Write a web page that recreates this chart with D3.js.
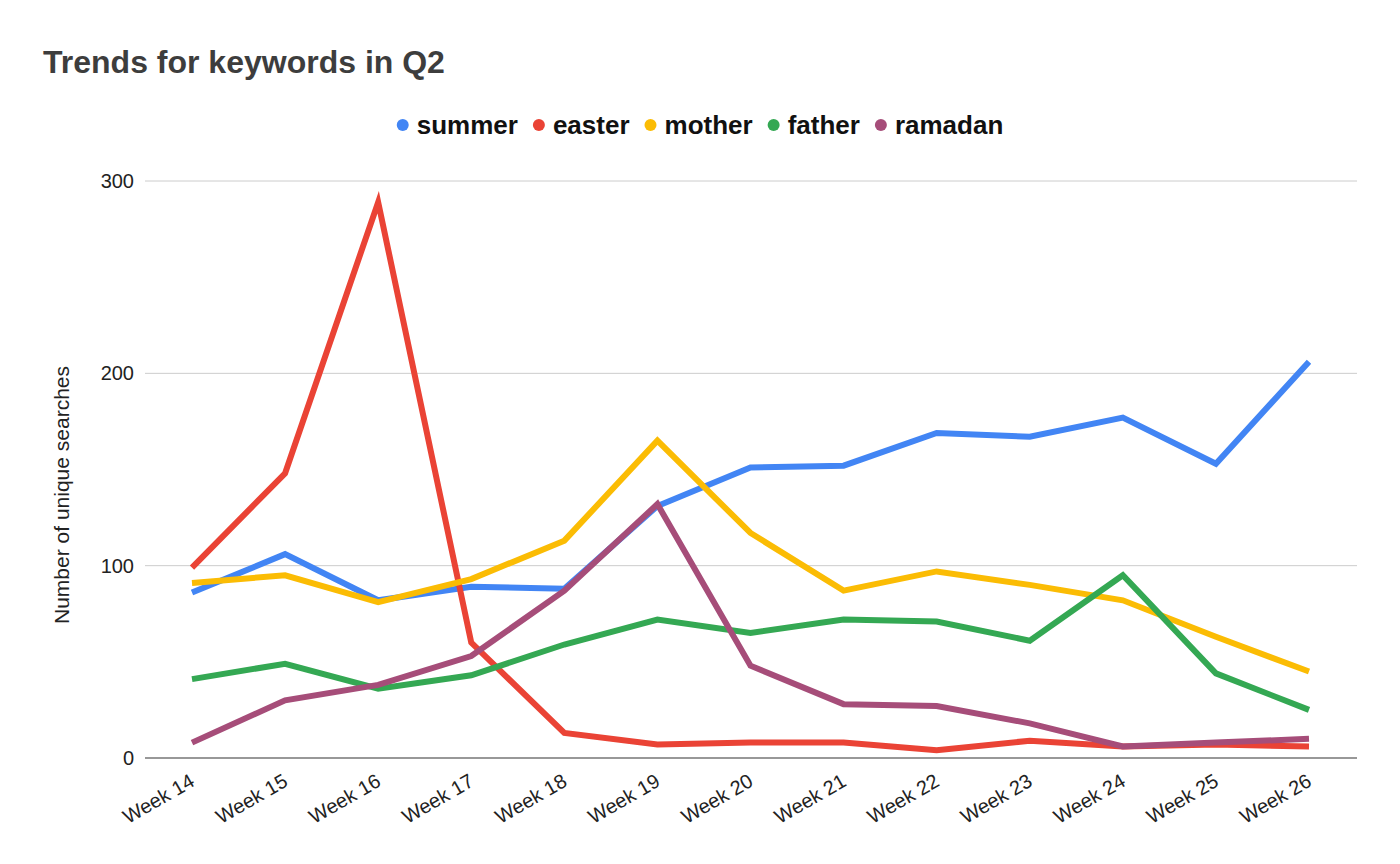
<!DOCTYPE html>
<html>
<head>
<meta charset="utf-8">
<script src="https://cdn.jsdelivr.net/npm/d3@7"></script>
<style>
  body { margin: 0; background: #fff; }
  text { font-family: Arial, "Liberation Sans", sans-serif; }
</style>
</head>
<body>
<div id="chart-area"></div>
<script>
// Data
const weeks = ["Week 14","Week 15","Week 16","Week 17","Week 18","Week 19","Week 20","Week 21","Week 22","Week 23","Week 24","Week 25","Week 26"]
const keywords = ["summer","easter","mother","father","ramadan"]
const summer  = [86, 106, 82, 89, 88, 131, 151, 152, 169, 167, 177, 153, 206]
const easter  = [99, 148, 289, 60, 13, 7, 8, 8, 4, 9, 6, 7, 6]
const mother  = [91, 95, 81, 93, 113, 165, 117, 87, 97, 90, 82, 63, 45]
const father  = [41, 49, 36, 43, 59, 72, 65, 72, 71, 61, 95, 44, 25]
const ramadan = [8, 30, 38, 53, 87, 132, 48, 28, 27, 18, 6, 8, 10]
const yTicks = [0, 100, 200, 300]
const colors = ["#4285f4", "#ea4335", "#fbbc04", "#34a853", "#a64d79"]

const series = [summer, easter, mother, father, ramadan]

const W = 1400, H = 864
const svg = d3.select("#chart-area").append("svg")
  .attr("width", W)
  .attr("height", H)

const x = d3.scalePoint().domain(weeks).range([192, 1309])
const y = d3.scaleLinear().domain([0, 300]).range([758, 181])
const cScale = d3.scaleOrdinal().domain(keywords).range(colors)

// Title
svg.append("text")
  .attr("x", 43).attr("y", 73)
  .style("font-size", "32px").style("font-weight", "bold")
  .attr("fill", "#3d3d3d")
  .text("Trends for keywords in Q2")

// gridlines
svg.append("g")
  .selectAll("line")
  .data(yTicks.filter(d => d > 0))
  .join("line")
    .attr("x1", 145).attr("x2", 1357)
    .attr("y1", d => y(d)).attr("y2", d => y(d))
    .attr("stroke", "#cccccc").attr("stroke-width", 1)

// y tick labels
svg.append("g")
  .selectAll("text")
  .data(yTicks)
  .join("text")
    .attr("x", 134).attr("y", d => y(d))
    .attr("dy", "0.35em")
    .attr("text-anchor", "end")
    .style("font-size", "20px")
    .attr("fill", "#222")
    .text(d => d)

// y axis title
svg.append("text")
  .attr("transform", "translate(69,495) rotate(-90)")
  .attr("text-anchor", "middle")
  .style("font-size", "21px")
  .attr("fill", "#222")
  .text("Number of unique searches")

// x labels
svg.append("g")
  .selectAll("text")
  .data(weeks)
  .join("text")
    .attr("transform", d => `translate(${x(d) + 4},${785}) rotate(-30)`)
    .attr("text-anchor", "end")
    .style("font-size", "20px")
    .attr("fill", "#222")
    .text(d => d)

// lines
const line = d3.line()
  .x((d, i) => x(weeks[i]))
  .y(d => y(d))

svg.append("g")
  .selectAll("path")
  .data(series)
  .join("path")
    .attr("d", d => line(d))
    .attr("fill", "none")
    .attr("stroke", (d, i) => cScale(keywords[i]))
    .attr("stroke-width", 6)
    .attr("stroke-linejoin", "miter")

// baseline
svg.append("line")
  .attr("x1", 145).attr("x2", 1357)
  .attr("y1", y(0)).attr("y2", y(0))
  .attr("stroke", "#333").attr("stroke-width", 1.2)

// Legend
const legend = svg.append("g")
const items = legend.selectAll("g")
  .data(keywords)
  .join("g")
items.append("circle")
  .attr("r", 6)
  .attr("fill", d => cScale(d))
items.append("text")
  .attr("x", 14)
  .attr("dy", "0.35em")
  .style("font-size", "26px").style("font-weight", "bold")
  .attr("fill", "#111")
  .text(d => d)

let cx = 0
items.each(function() {
  const w = d3.select(this).select("text").node().getComputedTextLength()
  d3.select(this).attr("transform", `translate(${cx},125)`)
  cx += 14 + w + 21
})
const totalW = cx - 21 + 6
legend.attr("transform", `translate(${700 - totalW / 2 + 6},0)`)
</script>
</body>
</html>
